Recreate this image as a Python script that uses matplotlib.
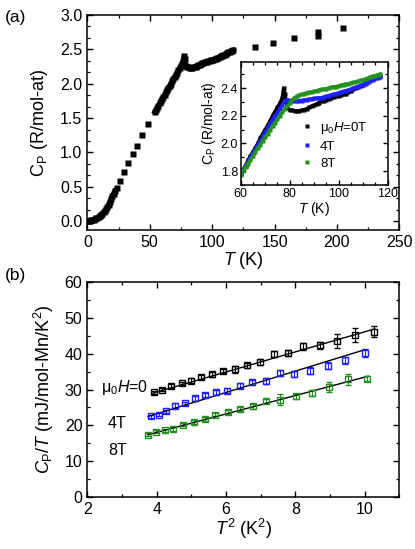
import numpy as np
import matplotlib
matplotlib.use("Agg")
import matplotlib.pyplot as plt
from matplotlib.ticker import MultipleLocator, AutoMinorLocator

plt.rcParams['font.family'] = ['Liberation Sans', 'DejaVu Sans']
plt.rcParams['mathtext.fontset'] = 'custom'
plt.rcParams['mathtext.rm'] = 'Liberation Sans'
plt.rcParams['mathtext.it'] = 'Liberation Sans:italic'
plt.rcParams['axes.linewidth'] = 1.1

# ---- panel (a): zero-field heat capacity, R/mol-at ----
T_low = [0.5, 1, 2, 3, 4, 5, 6, 7, 8, 9, 10, 11, 12, 13, 14, 15, 16, 17, 18, 19, 20, 21, 22]
Cp_low = [0.00, 0.00, 0.005, 0.01, 0.015, 0.02, 0.03, 0.04, 0.05, 0.06, 0.075, 0.09, 0.11,
          0.13, 0.15, 0.17, 0.20, 0.24, 0.28, 0.32, 0.36, 0.40, 0.44]
T_mid = [23.5, 26.2, 29.7, 32.9, 36.4, 40.1, 44.1, 48.9]
Cp_mid = [0.48, 0.59, 0.71, 0.85, 0.97, 1.10, 1.26, 1.41]
T_0T = [54, 55, 56, 57, 58, 59, 60, 61, 62, 63, 64, 65, 66, 67, 68, 69, 70, 71, 72, 73, 74,
        75, 76, 77, 77.5, 78, 79, 80, 81, 82, 83, 84, 85, 86, 87, 88, 89, 90, 91, 92, 93, 94,
        95, 96, 97, 98, 99, 100, 101, 102, 103, 104, 105, 106, 107, 108, 109, 110, 111, 112,
        113, 114, 115, 116, 117]
Cp_0T = [1.59, 1.62, 1.65, 1.68, 1.72, 1.75, 1.78, 1.81, 1.84, 1.88, 1.91, 1.94, 1.97, 2.00,
         2.04, 2.07, 2.10, 2.13, 2.16, 2.20, 2.23, 2.26, 2.29, 2.33, 2.40, 2.36, 2.26, 2.24,
         2.24, 2.235, 2.235, 2.235, 2.24, 2.245, 2.25, 2.26, 2.27, 2.275, 2.285, 2.295, 2.305,
         2.31, 2.315, 2.32, 2.33, 2.335, 2.34, 2.345, 2.35, 2.355, 2.36, 2.37, 2.38, 2.39,
         2.40, 2.41, 2.415, 2.425, 2.435, 2.445, 2.455, 2.465, 2.475, 2.48, 2.49]
T_high = [134.4, 149.1, 165.6, 184.6, 184.6, 204.6]
Cp_high = [2.53, 2.59, 2.67, 2.69, 2.75, 2.81]

# inset: in-field data 60-117 K
T_field = list(range(60, 118))
Cp_4T = [1.78, 1.81, 1.84, 1.87, 1.90, 1.93, 1.96, 1.99, 2.02, 2.05, 2.08, 2.11, 2.14, 2.17,
         2.20, 2.22, 2.25, 2.28, 2.31, 2.315, 2.31, 2.305, 2.305, 2.305, 2.31, 2.31, 2.315,
         2.315, 2.32, 2.32, 2.325, 2.325, 2.33, 2.33, 2.335, 2.34, 2.345, 2.35, 2.355, 2.36,
         2.365, 2.37, 2.375, 2.38, 2.385, 2.39, 2.40, 2.405, 2.41, 2.42, 2.425, 2.43, 2.44,
         2.45, 2.46, 2.47, 2.475, 2.48]
Cp_8T = [1.77, 1.80, 1.83, 1.855, 1.88, 1.91, 1.94, 1.965, 1.99, 2.02, 2.045, 2.07, 2.10,
         2.125, 2.15, 2.175, 2.20, 2.225, 2.25, 2.27, 2.29, 2.315, 2.33, 2.34, 2.35, 2.355,
         2.36, 2.365, 2.37, 2.37, 2.375, 2.38, 2.385, 2.39, 2.39, 2.395, 2.40, 2.405, 2.41,
         2.41, 2.415, 2.42, 2.425, 2.43, 2.43, 2.435, 2.44, 2.445, 2.45, 2.455, 2.46, 2.465,
         2.47, 2.48, 2.485, 2.49, 2.495, 2.50]

# ---- panel (b): Cp/T vs T^2, mJ/mol-Mn/K^2 ----
T2_0 = [3.91, 4.16, 4.40, 4.73, 5.00, 5.28, 5.59, 5.92, 6.25, 6.60, 6.98, 7.39, 7.78, 8.22,
        8.70, 9.21, 9.72, 10.28]
CT_0 = [29.2, 30.0, 30.9, 31.7, 32.5, 33.5, 34.2, 35.1, 35.6, 36.8, 37.7, 40.0, 40.2, 42.1,
        42.4, 43.5, 45.3, 46.1]
err_0 = [0.5, 0.5, 0.6, 0.5, 0.6, 0.6, 0.6, 0.6, 1.0, 0.7, 0.8, 0.8, 0.9, 1.0, 1.0, 2.0, 2.0, 1.5]
T2_4 = [3.84, 4.06, 4.27, 4.54, 4.82, 5.11, 5.39, 5.70, 6.04, 6.39, 6.76, 7.14, 7.55, 7.95,
        8.43, 8.94, 9.43, 10.00]
CT_4 = [22.5, 23.0, 23.9, 25.5, 26.1, 27.5, 28.5, 29.2, 29.7, 31.1, 32.0, 32.3, 34.6, 34.4,
        35.2, 36.7, 38.2, 40.2]
err_4 = [0.4, 0.5, 0.5, 0.6, 0.5, 0.6, 0.5, 0.6, 0.6, 0.7, 0.7, 0.9, 0.8, 0.8, 1.0, 0.9, 1.0, 1.0]
T2_8 = [3.75, 3.99, 4.23, 4.47, 4.76, 5.08, 5.38, 5.69, 6.07, 6.40, 6.78, 7.14, 7.57, 8.03,
        8.48, 8.98, 9.51, 10.08]
CT_8 = [17.4, 18.2, 18.6, 18.9, 20.2, 20.9, 21.8, 23.0, 23.7, 24.6, 25.3, 26.7, 27.2, 28.1,
        29.1, 30.7, 32.8, 33.0]
err_8 = [0.4, 0.4, 0.4, 0.5, 0.5, 0.5, 0.6, 0.5, 0.6, 0.6, 0.6, 0.6, 1.5, 0.7, 0.8, 1.5, 1.5, 0.7]

# linear fits  Cp/T = gamma + beta*T^2
fit_gamma = [18.1, 11.3, 7.76]
fit_beta = [2.80, 2.98, 2.57]
fit_range = [(3.89, 10.29), (3.75, 10.0), (3.75, 10.1)]

BLUE = '#1f1fff'
GREEN = '#23921f'


def style_ticks(ax, size=11.5):
    ax.tick_params(which='both', direction='in', top=True, right=True, labelsize=size)
    ax.tick_params(which='major', length=4.5, width=1)
    ax.tick_params(which='minor', length=2.5, width=0.9)


fig = plt.figure(figsize=(4.15, 5.49), dpi=100)

# panel (a)
ax1 = fig.add_axes([0.2104, 0.581, 0.752, 0.3916])
ms = 4.3
# dense runs: markers joined by a thick line so they read as a solid band
ax1.plot(T_low, Cp_low, '-s', color='black', ms=ms, mec='none', lw=3.5)
ax1.plot(T_mid, Cp_mid, 's', color='black', ms=ms, mec='none')
ax1.plot(T_0T, Cp_0T, '-s', color='black', ms=ms, mec='none', lw=3.5)
ax1.plot(T_high, Cp_high, 's', color='black', ms=ms, mec='none')
ax1.set_xlim(0, 250)
ax1.set_ylim(-0.13, 3.0)
ax1.xaxis.set_major_locator(MultipleLocator(50))
ax1.xaxis.set_minor_locator(AutoMinorLocator(2))
ax1.yaxis.set_major_locator(MultipleLocator(0.5))
ax1.yaxis.set_minor_locator(AutoMinorLocator(3))
ax1.yaxis.set_major_formatter(matplotlib.ticker.FormatStrFormatter('%.1f'))
style_ticks(ax1)
ax1.set_xlabel('$T$ (K)', fontsize=13, labelpad=0)
ax1.set_ylabel('C$_\\mathrm{P}$ (R/mol-at)', fontsize=13, labelpad=7)
fig.text(0.012, 0.968, '(a)', fontsize=12.5, va='center')

# inset
axi = fig.add_axes([0.580, 0.663, 0.354, 0.2246])
ims = 3.2
axi.plot(T_0T, Cp_0T, '-s', color='black', ms=ims, mec='none', lw=2.5, label='μ$_0$$H$=0T')
axi.plot(T_field, Cp_4T, '-s', color=BLUE, ms=ims, mec='none', lw=2.5, label='4T')
axi.plot(T_field, Cp_8T, '-s', color=GREEN, ms=ims, mec='none', lw=2.5, label='8T')
axi.set_xlim(60, 120)
axi.set_ylim(1.7, 2.59)
axi.xaxis.set_major_locator(MultipleLocator(20))
axi.xaxis.set_minor_locator(AutoMinorLocator(4))
axi.yaxis.set_major_locator(MultipleLocator(0.2))
axi.yaxis.set_minor_locator(AutoMinorLocator(2))
style_ticks(axi, size=9)
axi.tick_params(which='major', length=3.5, pad=2)
axi.tick_params(which='minor', length=2)
axi.set_xlabel('$T$ (K)', fontsize=10, labelpad=0)
axi.set_ylabel('C$_\\mathrm{P}$ (R/mol-at)', fontsize=10, labelpad=2)
leg = axi.legend(loc='lower left', bbox_to_anchor=(0.36, 0.05), frameon=False, fontsize=9.5,
                 handlelength=0.6, handletextpad=0.7, labelspacing=0.35, markerscale=1.1,
                 borderpad=0.2)
for h in leg.legend_handles:
    h.set_linestyle('none')

# panel (b)
ax2 = fig.add_axes([0.2104, 0.0947, 0.752, 0.3916])
series = [(T2_0, CT_0, err_0, 'black'), (T2_4, CT_4, err_4, BLUE), (T2_8, CT_8, err_8, GREEN)]
for (x, y, e, c), g, b, (x0, x1) in zip(series, fit_gamma, fit_beta, fit_range):
    ax2.errorbar(x, y, yerr=e, fmt='s', mfc='none', mec=c, ecolor=c, ms=4.5, mew=1.0,
                 elinewidth=0.8, capsize=2, capthick=0.8)
    xx = np.array([x0, x1])
    ax2.plot(xx, g + b * xx, color='black', lw=1)
ax2.set_xlim(2, 11)
ax2.set_ylim(0, 60)
ax2.xaxis.set_major_locator(MultipleLocator(2))
ax2.xaxis.set_minor_locator(AutoMinorLocator(2))
ax2.yaxis.set_major_locator(MultipleLocator(10))
ax2.yaxis.set_minor_locator(AutoMinorLocator(2))
style_ticks(ax2)
ax2.set_xlabel('$T^2$ (K$^2$)', fontsize=13, labelpad=0)
ax2.set_ylabel('$C_\\mathrm{P}/T$ (mJ/mol-Mn/K$^2$)', fontsize=13, labelpad=6)
ax2.text(2.4, 30.5, 'μ$_0$$H$=0', fontsize=11.5, va='center')
ax2.text(2.6, 20.4, '4T', fontsize=11.5, va='center')
ax2.text(2.6, 12.9, '8T', fontsize=11.5, va='center')
fig.text(0.012, 0.498, '(b)', fontsize=12.5, va='center')

fig.savefig('out.png', dpi=100)
